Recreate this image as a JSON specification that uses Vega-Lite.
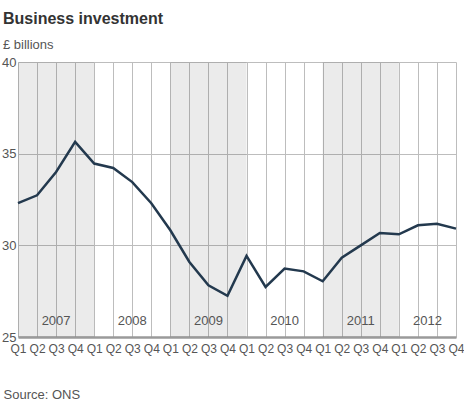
{
  "$schema": "https://vega.github.io/schema/vega-lite/v6.json",
  "autosize": "none",
  "width": 438,
  "height": 275,
  "padding": {"left": 18, "top": 62, "right": 8, "bottom": 75},
  "background": "white",
  "config": {
    "font": "Liberation Sans",
    "view": {"stroke": null},
    "axis": {"labelFont": "Liberation Sans", "titleFont": "Liberation Sans"}
  },
  "title": {
    "text": "Business investment",
    "subtitle": "£ billions",
    "anchor": "start",
    "frame": "group",
    "dx": -15,
    "offset": 4,
    "fontSize": 16,
    "fontWeight": "bold",
    "color": "#333333",
    "subtitleFontSize": 13,
    "subtitleColor": "#555555",
    "subtitlePadding": 12
  },
  "datasets": {
    "inv": [
      {"year": 2007, "q": "Q1", "i": 0, "value": 32.3},
      {"year": 2007, "q": "Q2", "i": 1, "value": 32.73},
      {"year": 2007, "q": "Q3", "i": 2, "value": 34.0},
      {"year": 2007, "q": "Q4", "i": 3, "value": 35.64},
      {"year": 2008, "q": "Q1", "i": 4, "value": 34.46},
      {"year": 2008, "q": "Q2", "i": 5, "value": 34.22},
      {"year": 2008, "q": "Q3", "i": 6, "value": 33.45},
      {"year": 2008, "q": "Q4", "i": 7, "value": 32.3},
      {"year": 2009, "q": "Q1", "i": 8, "value": 30.82},
      {"year": 2009, "q": "Q2", "i": 9, "value": 29.09},
      {"year": 2009, "q": "Q3", "i": 10, "value": 27.82},
      {"year": 2009, "q": "Q4", "i": 11, "value": 27.25},
      {"year": 2010, "q": "Q1", "i": 12, "value": 29.42},
      {"year": 2010, "q": "Q2", "i": 13, "value": 27.73},
      {"year": 2010, "q": "Q3", "i": 14, "value": 28.73},
      {"year": 2010, "q": "Q4", "i": 15, "value": 28.58},
      {"year": 2011, "q": "Q1", "i": 16, "value": 28.04},
      {"year": 2011, "q": "Q2", "i": 17, "value": 29.33},
      {"year": 2011, "q": "Q3", "i": 18, "value": 30.0},
      {"year": 2011, "q": "Q4", "i": 19, "value": 30.67},
      {"year": 2012, "q": "Q1", "i": 20, "value": 30.6},
      {"year": 2012, "q": "Q2", "i": 21, "value": 31.09},
      {"year": 2012, "q": "Q3", "i": 22, "value": 31.18},
      {"year": 2012, "q": "Q4", "i": 23, "value": 30.91}
    ],
    "years": [
      {"year": "2007", "start": 0, "end": 4, "mid": 2, "shaded": true},
      {"year": "2008", "start": 4, "end": 8, "mid": 6, "shaded": false},
      {"year": "2009", "start": 8, "end": 12, "mid": 10, "shaded": true},
      {"year": "2010", "start": 12, "end": 16, "mid": 14, "shaded": false},
      {"year": "2011", "start": 16, "end": 20, "mid": 18, "shaded": true},
      {"year": "2012", "start": 20, "end": 23, "mid": 21.5, "shaded": false}
    ]
  },
  "layer": [
    {
      "data": {"name": "years"},
      "transform": [{"filter": "datum.shaded"}],
      "mark": {"type": "rect", "color": "#000000", "opacity": 0.08},
      "encoding": {
        "x": {
          "field": "start",
          "type": "quantitative",
          "scale": {"domain": [0, 23], "nice": false, "zero": false},
          "axis": {
            "values": [0, 1, 2, 3, 4, 5, 6, 7, 8, 9, 10, 11, 12, 13, 14, 15, 16, 17, 18, 19, 20, 21, 22, 23],
            "tickCount": 24,
            "labelExpr": "'Q' + (datum.value % 4 + 1)",
            "labelFontSize": 12,
            "labelColor": "#555555",
            "labelPadding": 6,
            "labelFlush": false,
            "labelOverlap": false,
            "ticks": false,
            "grid": true,
            "gridColor": "#bdbdbd",
            "gridWidth": 1,
            "domainColor": "#9a9a9a",
            "domainWidth": 2.5,
            "title": "Source: ONS",
            "titleFontSize": 13,
            "titleFontWeight": "normal",
            "titleColor": "#555555",
            "titleAnchor": "start",
            "titleAlign": "left",
            "titleBaseline": "alphabetic",
            "titleX": -15,
            "titleY": 61
          }
        },
        "x2": {"field": "end"}
      }
    },
    {
      "data": {"name": "years"},
      "mark": {"type": "text", "fontSize": 13, "color": "#555555", "baseline": "alphabetic", "dy": -12},
      "encoding": {
        "x": {"field": "mid", "type": "quantitative"},
        "y": {"datum": 25, "type": "quantitative"},
        "text": {"field": "year"}
      }
    },
    {
      "data": {"name": "inv"},
      "mark": {"type": "line", "color": "#23394e", "strokeWidth": 2.5, "strokeJoin": "miter"},
      "encoding": {
        "x": {"field": "i", "type": "quantitative"},
        "y": {
          "field": "value",
          "type": "quantitative",
          "scale": {"domain": [25, 40], "nice": false, "zero": false},
          "axis": {
            "values": [25, 30, 35, 40],
            "labelFontSize": 13,
            "labelColor": "#555555",
            "labelPadding": 2,
            "ticks": false,
            "domain": false,
            "grid": true,
            "gridColor": "#bdbdbd",
            "gridWidth": 1,
            "title": null
          }
        }
      }
    }
  ]
}
